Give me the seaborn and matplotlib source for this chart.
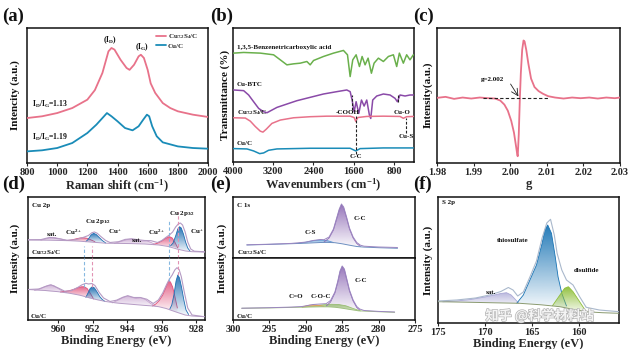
import numpy as np
import matplotlib
matplotlib.use("Agg")
import matplotlib.pyplot as plt
import seaborn as sns
from matplotlib.path import Path
from matplotlib.colors import to_rgb
import matplotlib.patheffects as pe

# ---------------- data ----------------
# (a) Raman
ram_x_pink = [800, 900, 1000, 1100, 1200, 1250, 1300, 1340, 1360, 1380, 1420, 1460, 1480, 1510, 1540, 1555, 1575, 1600, 1620, 1650, 1700, 1750, 1800, 1900, 2000]
ram_y_pink = [33.3, 34.6, 37, 40.7, 46.9, 54, 66.7, 82.7, 85.2, 84, 76.5, 70.4, 69, 72.8, 79, 80.2, 77.8, 69, 59, 51.9, 44.4, 40.7, 38.3, 35.8, 34.1]
ram_x_blue = [800, 900, 1000, 1100, 1200, 1260, 1300, 1330, 1360, 1400, 1450, 1500, 1540, 1570, 1595, 1610, 1630, 1660, 1700, 1800, 1900, 2000]
ram_y_blue = [8.6, 9.4, 11.1, 14.8, 22.2, 28.4, 33.3, 37, 34.6, 30.9, 25.9, 24.2, 27.2, 32, 35.8, 34.6, 27.2, 19.8, 15.3, 12.3, 11.1, 10.6]

# (b) FTIR
ir_x_green = [3987, 3788, 3457, 3193, 3060, 2928, 2796, 2663, 2531, 2465, 2398, 2200, 2001, 1803, 1723, 1670, 1618, 1551, 1485, 1432, 1373, 1313, 1247, 1194, 1108, 1009, 909, 810, 744, 691, 612, 546, 480, 413]
ir_y_green = [81.25, 81.75, 81.25, 80, 76.25, 72.5, 73.25, 73.75, 75, 72.5, 75.75, 78.75, 81.25, 83.25, 80, 63.75, 76.25, 80, 71.25, 78.75, 72.5, 77.5, 66.25, 73.75, 77.5, 75, 78.75, 80, 71.25, 81.25, 73.75, 80, 76.25, 80]
ir_x_purple = [3987, 3788, 3689, 3590, 3490, 3391, 3325, 3226, 3126, 2928, 2729, 2465, 2200, 1935, 1737, 1670, 1631, 1591, 1551, 1498, 1445, 1392, 1340, 1287, 1260, 1221, 1141, 1009, 876, 777, 731, 678, 578, 480, 413]
ir_y_purple = [53.75, 53.25, 50, 45, 40, 37.5, 36.75, 38.75, 40.75, 43.25, 45.75, 48.25, 50.75, 52.5, 53.75, 52.5, 46.25, 37.5, 45, 36.25, 46.25, 41.75, 46.25, 35, 32.5, 46.25, 49.25, 50.75, 50, 47.5, 45, 50, 49.25, 50, 50]
ir_x_pink = [3987, 3755, 3656, 3557, 3457, 3404, 3338, 3226, 3060, 2796, 2465, 2134, 1670, 1591, 1558, 1518, 1340, 1009, 678, 612, 546, 413]
ir_y_pink = [33.0, 32.8, 30.5, 26.5, 23.0, 22.3, 24.5, 28.8, 31.3, 33.0, 33.8, 34.2, 34.2, 33.2, 30.3, 33.2, 34.0, 34.2, 34.0, 32.6, 33.8, 34.0]
ir_x_blue = [3987, 3722, 3590, 3470, 3391, 3292, 3126, 2465, 1670, 1558, 1472, 1009, 413]
ir_y_blue = [10, 9.75, 8.25, 6.25, 6.75, 8.75, 9.75, 10.25, 10.25, 8.25, 10, 10.5, 10.5]
ir_mark_x = [1637, 1558, 720, 560]
ir_mark_y0 = [50, 34, 50, 33]
ir_mark_y1 = [39, 6, 45, 22]

# (c) EPR
epr_g = [1.98, 1.98234, 1.98467, 1.98701, 1.98935, 1.99168, 1.99402, 1.99589, 1.99729, 1.99841, 1.99935, 2.00028, 2.00103, 2.00159, 2.00196, 2.00206, 2.00234, 2.00262, 2.0029, 2.00327, 2.00364, 2.00393, 2.00439, 2.00495, 2.0057, 2.00664, 2.00776, 2.00897, 2.01037, 2.01224, 2.01458, 2.01692, 2.01925, 2.02159, 2.02393, 2.02626, 2.0286, 2.03]
epr_i = [48.25, 49, 47.5, 48.5, 47.75, 48.5, 48, 47.75, 46.25, 43.25, 38.75, 31.25, 22.5, 12.5, 5.75, 5, 21.25, 46.25, 66.25, 83.75, 90.75, 90, 83.75, 73.75, 62.5, 56.25, 53.25, 51.25, 49.5, 48.5, 47.75, 48.5, 48, 48.5, 47.75, 48.5, 48, 48.5]
epr_ref = [1.99262, 2.01037, 48.25]

# (d) Cu 2p, top = Cu7.2S4/C, bottom = Cu/C
d_bg_t_x = [967, 962, 957.3, 955, 952, 949, 946, 943, 940, 936.7, 934.5, 932.5, 930.5, 929, 926]
d_bg_t_y = [18, 17.8, 17.3, 16.8, 15.8, 14.8, 14.6, 14.4, 14, 13, 11.5, 9, 7, 6.3, 6]
d_t_sat1 = ([964, 962.5, 961, 959.5, 958], [17.9, 19.5, 20.5, 19.3, 17.5], [17.9, 17.8, 17.6, 17.4, 17.3])
d_t_pk1 = ([958, 957, 956, 955, 954.2, 953.4, 952.5, 951.5], [17.4, 18.0, 19.0, 20.0, 20.3, 19.8, 18.3, 16.3], [17.4, 17.2, 17.1, 16.9, 16.7, 16.4, 16.1, 15.8])
d_t_bl1 = ([953.6, 953, 952.4, 951.8, 951.2, 950.5, 949.8, 949], [16.3, 19, 23, 24.7, 23.5, 20.5, 17.5, 15], [16.3, 16.1, 15.9, 15.8, 15.6, 15.3, 15.1, 14.9])
d_t_sat2 = ([947, 945.5, 944, 943, 942, 940.5, 939.5, 938.5, 937.5], [14.7, 16.5, 18.5, 19, 18, 17, 17.3, 15.5, 13.5], [14.7, 14.6, 14.5, 14.4, 14.2, 14.1, 14.0, 13.6, 13.3])
d_t_pk2 = ([938, 937, 936, 935.2, 934.6, 934.2, 933.6, 933, 932.3], [13.5, 14.8, 17, 19.5, 21, 21.3, 20, 16, 10], [13.5, 13.3, 12.9, 12.3, 11.9, 11.6, 11.1, 10.3, 9.1])
d_t_bl2 = ([934, 933.4, 932.8, 932.3, 931.9, 931.5, 931, 930.5, 930, 929.4], [12, 15, 22, 29, 31.3, 30, 24, 16, 10, 6.5], [12, 11.1, 10.2, 9.4, 8.9, 8.4, 7.8, 7.2, 6.8, 6.4])
d_env_t_x = [967, 964, 962, 960, 958, 956, 955, 954.2, 953, 952.2, 951.6, 951, 950, 949, 948, 946, 944.5, 943, 941.5, 940, 938.5, 937, 936, 935, 934.2, 933.5, 932.8, 932.2, 931.7, 931.2, 930.6, 930, 929.3, 928.5, 926]
d_env_t_y = [18.3, 18.4, 20.6, 19.3, 17.8, 18.3, 19.5, 20.6, 22.5, 25.3, 26.0, 24.8, 21.0, 17.5, 15.5, 16.3, 18.6, 19.2, 18.3, 17.5, 17.3, 15.5, 17.5, 20.8, 23.2, 26, 31, 34, 35, 33, 26, 16, 9, 6.8, 6.2]

d_bg_b_x = [967, 963, 960, 957.3, 955, 953, 951, 949, 947, 945.8, 943, 940, 938, 936.7, 935, 933.5, 932, 930.6, 929, 926]
d_bg_b_y = [30.5, 29.5, 28.3, 26.7, 24.8, 22.5, 20.3, 18.5, 17.3, 16.7, 15.7, 14.6, 14, 13.3, 11.5, 9.2, 7, 5, 4, 3.3]
d_b_sat1 = ([965.5, 964, 963, 962.2, 961.7, 961, 960, 959, 958], [29.6, 31.5, 33.5, 34.8, 35, 34.3, 31.5, 28.8, 27.5], [29.6, 29.3, 29.0, 28.7, 28.5, 28.4, 28.2, 27.7, 27.2])
d_b_pk1 = ([959.5, 958.5, 957.5, 956.5, 955.5, 954.7, 954, 953.3, 952.6, 951.8], [28, 28.5, 29.3, 30.5, 32.3, 33.2, 33.3, 31.5, 27, 21], [28, 27.5, 26.9, 26.1, 25.2, 24.4, 23.7, 22.9, 22.2, 21])
d_b_bl1 = ([953.6, 953.1, 952.6, 952.1, 951.6, 951, 950.4, 949.8, 949.2], [22.6, 27, 31.5, 33.3, 32, 28, 23.5, 20.5, 18.6], [22.6, 22.0, 21.4, 20.9, 20.4, 19.9, 19.4, 18.9, 18.5])
d_b_sat2 = ([947.5, 946.3, 945, 943.9, 943, 942, 940.9, 939.8, 938.6, 937.5], [17.1, 19.5, 22.5, 24, 22.8, 21.5, 22.3, 20.5, 16.5, 14], [17.1, 16.8, 16.3, 16.0, 15.7, 15.3, 15.0, 14.6, 14.2, 13.9])
d_b_pk2 = ([938.2, 937.4, 936.6, 935.8, 935.2, 934.7, 934.4, 934, 933.5, 933, 932.4], [14, 16, 19.5, 25, 31, 36.5, 39, 38, 33, 24, 12], [14, 13.8, 13.4, 12.7, 11.8, 11.1, 10.8, 10.2, 9.2, 8.6, 7.6])
d_b_bl2 = ([934.2, 933.7, 933.2, 932.7, 932.3, 931.9, 931.4, 930.9, 930.4, 929.8], [10.5, 15, 25, 39, 45, 42, 32, 20, 10, 5.5], [10.5, 9.6, 8.6, 7.6, 7, 6.6, 6.0, 5.4, 5.0, 4.6])
d_env_b_x = [967, 964.5, 963, 961.7, 960, 958.5, 957, 955.5, 954.5, 953.6, 953, 952.2, 951.5, 950.5, 949.5, 948, 946.5, 945, 943.9, 942.5, 941, 939.5, 938, 936.8, 935.8, 935, 934.3, 933.6, 933, 932.5, 932, 931.5, 930.8, 930, 929, 926.5]
d_env_b_y = [30.5, 31, 33.5, 35.2, 32, 28.8, 29.3, 32.5, 35.2, 36.7, 36, 36.5, 34.5, 27.5, 22, 18.5, 19.8, 22.8, 24.3, 22.5, 22.5, 20.8, 16.5, 20, 27, 34.5, 40.5, 45, 50, 52.3, 50.5, 43.5, 28, 12, 5, 3.5]
d_guides = [(954.0, '#86b8e0'), (952.1, '#e292b4'), (934.4, '#86b8e0'), (932.2, '#e292b4')]
d_guide_top = [12, 12, 37, 46]
d_guide_bot = [33, 33, 39, 45]

# (e) C 1s
e_bg_t_x = [298.1, 295, 292, 290, 288, 287, 286, 285, 284, 283, 282, 280, 277.4]
e_bg_t_y = [13, 13.6, 14.3, 14.8, 15.5, 15.6, 15.3, 14.2, 12.8, 11.5, 10.9, 10.3, 9.7]
e_t_cs = ([291, 290, 289, 288, 287, 286.2], [14.7, 15.8, 17.3, 18, 17.3, 15.5], [14.7, 14.8, 15.1, 15.5, 15.6, 15.4])
e_t_cc = ([287.5, 286.8, 286.2, 285.8, 285.4, 285.1, 284.8, 284.4, 284, 283.5, 283, 282.5], [16, 20, 28, 38, 48, 53, 50, 40, 29, 20, 14.5, 11.5], [15.6, 15.5, 15.3, 15.0, 14.6, 14.3, 14.0, 13.4, 12.8, 12.0, 11.5, 11.0])
e_env_t_x = [298.1, 295, 292, 290, 289, 288, 287.5, 286.8, 286.2, 285.8, 285.4, 285.1, 284.8, 284.4, 284, 283.5, 283, 282.5, 282, 280, 277.4]
e_env_t_y = [13.2, 13.8, 14.6, 15.9, 17.5, 18.5, 18.3, 21, 29, 39, 49, 54, 51, 41, 30, 21, 15.5, 12.8, 11.8, 11, 10.5]
e_bg_b_x = [298.8, 295, 292, 290, 288, 287, 286, 285, 284, 283, 282.8, 280, 277.8]
e_bg_b_y = [11.7, 12.1, 12.6, 12.9, 13.2, 13.2, 12.8, 11.8, 10.6, 9.5, 9.2, 8.3, 7.7]
e_b_coc = ([290.5, 289.5, 288.5, 287.5, 286.5, 285.5, 284.5, 283.5, 282.5], [12.9, 13.5, 14.5, 15.3, 15.7, 15.5, 14.2, 11.5, 9.1], [12.9, 13.0, 13.15, 13.2, 13.0, 12.3, 11.2, 10.0, 9.1])
e_b_co = ([290.5, 290, 289.5, 289, 288.5, 288, 287.5], [12.9, 14, 14.8, 15, 14.8, 14.3, 13.6], [12.9, 13.0, 13.0, 13.1, 13.15, 13.2, 13.2])
e_b_cc = ([287.2, 286.6, 286, 285.6, 285.3, 285.0, 284.7, 284.4, 284, 283.5, 283, 282.6], [14, 18, 27, 38, 48, 53.3, 50, 41, 29, 19, 12.5, 10], [13.2, 13.0, 12.8, 12.3, 12.0, 11.8, 11.4, 11.0, 10.6, 10.0, 9.5, 9.2])
e_env_b_x = [298.8, 295, 292, 290.5, 289, 288, 287.2, 286.6, 286, 285.6, 285.3, 285.0, 284.7, 284.4, 284, 283.5, 283, 282.6, 282, 280, 277.8]
e_env_b_y = [11.8, 12.3, 12.9, 13.5, 15.5, 16, 16.3, 19.5, 28, 39, 49, 54, 51, 42, 30, 20, 13.5, 11, 9.5, 8.6, 8]

# (f) S 2p
f_bg_x = [175, 172, 169, 166.3, 164, 162, 160.5, 159.2, 157.5, 155.7]
f_bg_y = [21.3, 20.8, 20.2, 19.7, 18.2, 16.3, 13.5, 11.3, 10.3, 9.7]
f_sat = ([174.5, 173, 171.5, 170, 169, 168.3, 167.7, 167.2, 166.8, 166.4], [21.2, 22, 23.5, 26, 28, 29.5, 30.3, 28, 24, 19.8], [21.2, 21.0, 20.7, 20.4, 20.2, 20.0, 19.9, 19.8, 19.8, 19.7])
f_thio = ([166.6, 165.9, 165.2, 164.5, 163.9, 163.6, 163.3, 162.9, 162.5, 162.2, 161.8, 161.3], [19.8, 28, 43, 58, 79.7, 93, 98, 89.7, 66.3, 46.3, 29.7, 17], [19.8, 19.5, 19.2, 18.6, 18.2, 17.9, 17.7, 17.3, 16.8, 16.5, 16.0, 15.0])
f_disu = ([162.8, 162, 161.5, 161.1, 160.6, 159.9, 159.2], [17.2, 28, 34.7, 36.3, 31.3, 21.3, 11.3], [17.2, 16.3, 15.4, 14.6, 13.7, 12.3, 11.3])
f_env_x = [175, 173, 171, 169.5, 168.3, 167.5, 167, 166.5, 165.9, 165.2, 164.5, 163.9, 163.4, 163.0, 162.6, 162.3, 161.8, 161.3, 160.6, 159.9, 159.2, 157.8, 155.7]
f_env_y = [22, 23, 25, 28, 31.5, 35.5, 33, 27, 31, 46, 62, 85, 100, 103.7, 88, 69.7, 53, 43, 38, 26.3, 15.7, 13, 11.3]

# ---------------- style ----------------
sns.set_theme(style="white")
plt.rcParams["font.family"] = ["Liberation Serif", "DejaVu Serif"]
plt.rcParams["font.weight"] = "bold"
plt.rcParams["axes.labelweight"] = "bold"
plt.rcParams["mathtext.default"] = "regular"
plt.rcParams["axes.edgecolor"] = "#111111"
plt.rcParams["axes.linewidth"] = 1.1

PINK = "#e8728a"
BLUE = "#1a8cb8"
GREEN = "#6ab04c"
PURPLE = "#8a4aa8"

W, H = 633, 349
fig = plt.figure(figsize=(W / 100, H / 100), dpi=100)


def box(x0, y0, x1, y1):
    return fig.add_axes([x0 / W, 1 - y1 / H, (x1 - x0) / W, (y1 - y0) / H])


def line(ax, x, y, color, lw=1.0, z=3, label=None, ls="-"):
    sns.lineplot(x=x, y=y, ax=ax, color=color, lw=lw, zorder=z, label=label,
                 sort=False, estimator=None, ls=ls)


def gfill(ax, peak, color, a0=0.06, a1=0.95, z=2, edge=True):
    x, top, base = (np.asarray(v, float) for v in peak)
    verts = np.vstack([np.column_stack([x, top]), np.column_stack([x[::-1], base[::-1]])])
    verts = np.vstack([verts, verts[:1]])
    path = Path(verts, closed=True)
    n = 64
    img = np.zeros((n, 1, 4))
    img[..., :3] = to_rgb(color)
    img[:, 0, 3] = np.linspace(a0, a1, n)
    im = ax.imshow(img, extent=[x.min(), x.max(), base.min(), top.max()], origin="lower",
                   aspect="auto", zorder=z, interpolation="bilinear")
    im.set_clip_path(path, ax.transData)
    if edge:
        line(ax, x, top, color, lw=0.6, z=z + 0.1)


def ftext(x, y, s, size=5, ha="left", va="center", color="#111111", **kw):
    fig.text(x / W, 1 - y / H, s, fontsize=size, ha=ha, va=va, color=color, fontweight="bold", **kw)


def xfmt(ax, ticks, lims, xlabel=None, ylim=None, pad=1):
    ax.set_xlim(*lims)
    if ylim is not None:
        ax.set_ylim(*ylim)
    ax.set_xticks(ticks)
    ax.set_yticks([])
    ax.tick_params(axis="x", labelsize=7.5, length=2, width=0.8, pad=1.5, direction="out", bottom=True)
    if xlabel:
        ax.set_xlabel(xlabel, fontsize=9, labelpad=pad, fontweight="bold")
    else:
        ax.set_xlabel("")
    ax.set_ylabel("")
    for s in ax.spines.values():
        s.set_linewidth(1.1)
        s.set_color("#111111")


# ---------------- (a) ----------------
ax = box(27, 28, 208, 163)
line(ax, ram_x_pink, ram_y_pink, PINK, lw=1.3, label="Cu$_{7.2}$S$_4$/C")
line(ax, ram_x_blue, ram_y_blue, BLUE, lw=1.3, label="Cu/C")
xfmt(ax, range(800, 2001, 200), (800, 2000), "Raman shift (cm$^{-1}$)", (0, 100))
ax.legend(loc="upper right", bbox_to_anchor=(0.97, 1.0), fontsize=5, frameon=False,
          handlelength=1.4, handletextpad=0.3, labelspacing=0.25, borderaxespad=0.2)
ftext(110, 40, "(I$_D$)", size=5.5, ha="center")
ftext(142, 47, "(I$_G$)", size=5.5, ha="center")
ftext(32, 104, "I$_D$/I$_G$=1.13", size=5.5)
ftext(32, 137, "I$_D$/I$_G$=1.19", size=5.5)
ftext(15, 95, "Intencity (a.u.)", size=8, ha="center", rotation=90)

# ---------------- (b) ----------------
ax = box(233, 28, 414, 162)
line(ax, ir_x_green, ir_y_green, GREEN, lw=1.1)
line(ax, ir_x_purple, ir_y_purple, PURPLE, lw=1.1)
line(ax, ir_x_pink, ir_y_pink, PINK, lw=1.1)
line(ax, ir_x_blue, ir_y_blue, BLUE, lw=1.1)
for xm, y0, y1 in zip(ir_mark_x, ir_mark_y0, ir_mark_y1):
    ax.vlines(xm, y1, y0, colors="#222222", linestyles=(0, (2.5, 1.5)), lw=0.8, zorder=4)
xfmt(ax, [4000, 3200, 2400, 1600, 800], (4000, 400), "Wavenumbers (cm$^{-1}$)", (0, 100))
ftext(237, 47, "1,3,5-Benzenetricarboxylic acid", size=5)
ftext(237, 85, "Cu-BTC", size=5)
ftext(237, 113, "Cu$_{7.2}$S$_4$/C", size=5)
ftext(237, 143, "Cu/C", size=5)
ftext(348, 113, "-COOH", size=5, ha="center")
ftext(402, 113, "Cu-O", size=5, ha="center")
ftext(406, 137, "Cu-S", size=5, ha="center")
ftext(356, 156, "C-C", size=5, ha="center")
ftext(225, 95, "Transmittance (%)", size=8, ha="center", rotation=90)

# ---------------- (c) ----------------
ax = box(437, 28, 620, 163)
line(ax, epr_g, epr_i, PINK, lw=1.3)
ax.hlines(epr_ref[2], epr_ref[0], epr_ref[1], colors="#222222", linestyles=(0, (3, 2)), lw=0.8, zorder=4)
ax.annotate("", xy=(2.00224, 49.3), xytext=(2.0001, 58.5),
            arrowprops=dict(arrowstyle="->", color="#222222", lw=0.6, shrinkA=0, shrinkB=0))
xfmt(ax, [1.98, 1.99, 2.00, 2.01, 2.02, 2.03], (1.98, 2.03), "g", (0, 100))
ax.set_xticklabels(["1.98", "1.99", "2.00", "2.01", "2.02", "2.03"])
ftext(492, 79, "g=2.002", size=5, ha="center")
ftext(428, 95, "Intensity(a.u.)", size=8, ha="center", rotation=90)

# ---------------- (d) ----------------
C_PINK = "#e0507a"
C_BLUE = "#1f6fb2"
C_SAT = "#c6a2cf"
C_ENV = "#b59bc4"
axt = box(28, 197, 205, 258)
axb = box(28, 258, 205, 320)
for a, sat1, pk1, bl1, sat2, pk2, bl2, bgx, bgy, ex, ey in [
        (axt, d_t_sat1, d_t_pk1, d_t_bl1, d_t_sat2, d_t_pk2, d_t_bl2, d_bg_t_x, d_bg_t_y, d_env_t_x, d_env_t_y),
        (axb, d_b_sat1, d_b_pk1, d_b_bl1, d_b_sat2, d_b_pk2, d_b_bl2, d_bg_b_x, d_bg_b_y, d_env_b_x, d_env_b_y)]:
    gfill(a, sat1, C_SAT, 0.15, 0.8)
    gfill(a, sat2, C_SAT, 0.15, 0.8)
    gfill(a, pk1, C_PINK, 0.05, 0.9)
    gfill(a, pk2, C_PINK, 0.05, 0.9)
    gfill(a, bl1, C_BLUE, 0.05, 0.95, z=2.5)
    gfill(a, bl2, C_BLUE, 0.05, 0.95, z=2.5)
    line(a, bgx, bgy, C_ENV, lw=0.7, z=3)
    line(a, ex, ey, C_ENV, lw=0.8, z=3.2)
for (gx, gc), yt, yb in zip(d_guides, d_guide_top, d_guide_bot):
    axt.vlines(gx, 0, yt, colors=gc, linestyles=(0, (3, 2)), lw=0.8, zorder=4)
    axb.vlines(gx, yb, 62, colors=gc, linestyles=(0, (3, 2)), lw=0.8, zorder=4)
xfmt(axt, [960, 952, 944, 936, 928], (967, 926), None, (0, 61))
axt.tick_params(axis="x", labelbottom=False, length=0)
xfmt(axb, [960, 952, 944, 936, 928], (967, 926), "Binding Energy (eV)", (0, 62))
ftext(32, 205, "Cu 2p", size=5)
ftext(52, 234, "sat.", size=5, ha="center")
ftext(74, 232, "Cu$^{2+}$", size=5, ha="center")
ftext(98, 222, "Cu 2p$_{1/2}$", size=5, ha="center")
ftext(115, 232, "Cu$^{+}$", size=5, ha="center")
ftext(137, 240, "sat.", size=5, ha="center")
ftext(157, 232, "Cu$^{2+}$", size=5, ha="center")
ftext(182, 213, "Cu 2p$_{3/2}$", size=5, ha="center")
ftext(197, 232, "Cu$^{+}$", size=5, ha="center")
ftext(31, 253, "Cu$_{7.2}$S$_4$/C", size=5)
ftext(31, 316, "Cu/C", size=5)
ftext(15, 258, "Intensity (a.u.)", size=8, ha="center", rotation=90)

# ---------------- (e) ----------------
axt = box(233, 197, 415, 258)
axb = box(233, 258, 415, 320)
gfill(axt, e_t_cs, "#5b9bd5", 0.3, 0.9)
gfill(axt, e_t_cc, "#8e6bb5", 0.05, 0.9)
line(axt, e_bg_t_x, e_bg_t_y, "#6d8fc0", lw=0.7)
line(axt, e_env_t_x, e_env_t_y, "#9b86c0", lw=0.7, z=3.2)
gfill(axb, e_b_coc, "#9ccc6a", 0.3, 0.9)
gfill(axb, e_b_co, "#e39a5a", 0.3, 0.9, z=2.3)
gfill(axb, e_b_cc, "#8e6bb5", 0.05, 0.9, z=2.6)
line(axb, e_bg_b_x, e_bg_b_y, "#9fbf80", lw=0.7)
line(axb, e_env_b_x, e_env_b_y, "#9b86c0", lw=0.7, z=3.2)
xfmt(axt, [300, 295, 290, 285, 280, 275], (300, 275), None, (0, 61))
axt.tick_params(axis="x", labelbottom=False, length=0)
xfmt(axb, [300, 295, 290, 285, 280, 275], (300, 275), "Binding Energy (eV)", (0, 62))
ftext(237, 205, "C 1s", size=5)
ftext(310, 233, "C-S", size=5, ha="center")
ftext(360, 218, "C-C", size=5, ha="center")
ftext(237, 253, "Cu$_{7.2}$S$_4$/C", size=5)
ftext(296, 296, "C=O", size=5, ha="center")
ftext(321, 296, "C-O-C", size=5, ha="center")
ftext(361, 280, "C-C", size=5, ha="center")
ftext(237, 316, "Cu/C", size=5)
ftext(222, 258, "Intensity (a.u.)", size=8, ha="center", rotation=90)

# ---------------- (f) ----------------
ax = box(438, 197, 619, 323)
gfill(ax, f_sat, "#aaa8d6", 0.25, 0.85)
gfill(ax, f_thio, "#1b75b5", 0.05, 0.95, z=2.4)
gfill(ax, f_disu, "#8fbf3a", 0.1, 0.95, z=2.6)
line(ax, f_bg_x, f_bg_y, "#8a9a70", lw=0.7)
line(ax, f_env_x, f_env_y, "#a9b8cc", lw=0.8, z=3.2)
xfmt(ax, [175, 170, 165, 160], (175, 155.7), "Binding Energy (eV)", (0, 126))
ftext(442, 203, "S 2p", size=5)
ftext(513, 241, "thiosulfate", size=5, ha="center")
ftext(587, 270, "disulfide", size=5, ha="center")
ftext(491, 292, "sat.", size=5, ha="center")
ftext(428, 260, "Intensity (a.u.)", size=8, ha="center", rotation=90)

# panel letters
for lx, ly, s in [(2, 16, "(a)"), (210, 16, "(b)"), (413, 16, "(c)"),
                  (2, 184, "(d)"), (210, 184, "(e)"), (413, 184, "(f)")]:
    ftext(lx, ly, s, size=13.5)

# watermark
fig.text(540 / W, 1 - 316 / H, "知乎 @科学材料站", fontsize=9.5, ha="center", va="center",
         color="#f4f4f4", family=["Noto Sans CJK SC", "DejaVu Sans"], zorder=10,
         path_effects=[pe.withStroke(linewidth=1.0, foreground="#b5b5b5")])

fig.savefig("out.png", dpi=100)
